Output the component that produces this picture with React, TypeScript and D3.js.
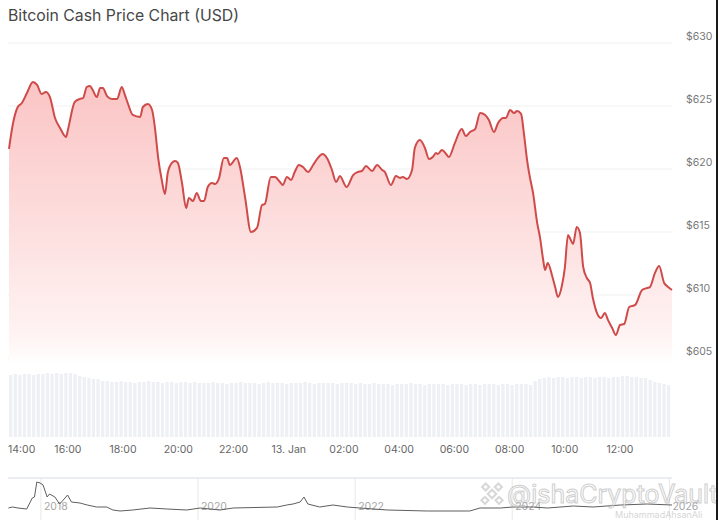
import React from "react";
import * as d3 from "d3";

const priceTimes = [
  "12 13:52","12 14:00","12 14:11","12 14:20","12 14:31","12 14:44","12 14:53","12 15:03","12 15:12","12 15:21",
  "12 15:32","12 15:43","12 15:56","12 16:00","12 16:15","12 16:26","12 16:33","12 16:41","12 16:48","12 16:54",
  "12 17:03","12 17:10","12 17:16","12 17:25","12 17:36","12 17:47","12 17:57","12 18:04","12 18:10","12 18:21",
  "12 18:37","12 18:43","12 18:54","12 19:03","12 19:09","12 19:16","12 19:24","12 19:31","12 19:37","12 19:46",
  "12 19:53","12 19:59","12 20:08","12 20:17","12 20:23","12 20:32","12 20:40","12 20:49","12 20:56","12 21:04",
  "12 21:13","12 21:20","12 21:28","12 21:39","12 21:46","12 21:52","12 22:07","12 22:14","12 22:25","12 22:38",
  "12 22:51","12 23:02","12 23:08","12 23:21","12 23:30","12 23:41","12 23:47","12 23:56","13 00:05","13 00:13",
  "13 00:22","13 00:31","13 00:42","13 00:53","13 01:03","13 01:14","13 01:23","13 01:34","13 01:43","13 01:51",
  "13 02:06","13 02:20","13 02:30","13 02:39","13 02:48","13 03:01","13 03:12","13 03:23","13 03:29","13 03:42",
  "13 03:53","13 04:02","13 04:08","13 04:17","13 04:28","13 04:34","13 04:45","13 04:56","13 05:05","13 05:13",
  "13 05:20","13 05:24","13 05:33","13 05:42","13 05:48","13 06:01","13 06:16","13 06:25","13 06:34","13 06:45",
  "13 06:56","13 07:07","13 07:15","13 07:26","13 07:35","13 07:46","13 07:52","13 08:01","13 08:10","13 08:16",
  "13 08:25","13 08:31","13 08:38","13 08:44","13 08:51","13 09:00","13 09:06","13 09:13","13 09:17","13 09:23",
  "13 09:32","13 09:39","13 09:45","13 09:54","13 10:00","13 10:07","13 10:13","13 10:18","13 10:26","13 10:33",
  "13 10:40","13 10:48","13 10:55","13 11:01","13 11:10","13 11:19","13 11:27","13 11:34","13 11:43","13 11:51",
  "13 12:00","13 12:09","13 12:20","13 12:33","13 12:48","13 12:59","13 13:05","13 13:16","13 13:25","13 13:36",
  "13 13:42","13 13:53",
];

const prices = [
  621.59,623.49,624.92,625.24,626.03,626.90,626.67,625.95,626.11,625.71,
  624.05,623.25,622.54,623.10,625.32,625.56,625.63,626.51,626.59,626.27,
  625.71,626.43,626.43,625.79,625.56,625.56,626.51,625.87,625.24,624.29,
  624.13,624.92,625.16,624.68,623.33,620.95,619.13,618.02,619.68,620.48,
  620.63,620.48,618.89,616.90,617.70,617.46,618.10,617.46,617.46,618.57,
  618.89,618.81,619.21,620.87,620.87,620.32,620.87,620.16,617.78,615.00,
  615.32,617.14,617.22,619.37,619.37,618.97,618.73,619.37,619.13,619.76,
  620.32,620.16,619.76,620.32,620.87,621.19,620.87,619.92,618.97,619.44,
  618.57,619.52,619.76,619.84,620.24,619.84,620.32,619.92,619.76,618.73,
  619.44,619.29,619.37,619.21,619.92,621.67,622.30,621.67,620.79,620.95,
  621.27,621.19,621.51,621.19,620.95,622.06,623.17,622.62,622.94,623.17,
  624.44,624.29,623.89,622.94,623.65,624.05,624.05,624.68,624.44,624.60,
  624.37,622.86,620.71,619.37,618.10,615.71,614.60,612.78,611.98,612.54,
  611.59,610.63,609.84,610.79,612.14,614.76,614.36,614.05,615.40,614.92,
  612.22,611.35,610.95,609.76,608.57,608.17,608.57,608.01,607.38,606.82,
  607.62,607.70,609.05,609.21,610.40,610.56,610.63,611.75,612.30,610.95,
  610.71,610.40,
];

// 10-minute volume bars starting 12 Jan 13:52 (relative units)
const volumeStart = "12 13:52";
const volumeIntervalMinutes = 10;
const volumes = [
  62,63,62,63,63,62,63,
  63,64,63,64,63,64,64,63,
  61,60,59,58,58,
  56,56,55,55,56,55,55,54,55,55,56,55,55,54,55,55,54,55,55,54,55,54,
  54,54,55,54,54,53,54,54,55,54,54,54,53,54,55,54,54,54,53,54,54,54,55,54,53,54,54,54,54,53,54,54,54,53,54,
  53,53,54,53,53,53,52,53,53,53,54,53,53,52,53,53,53,53,52,53,53,53,52,53,53,52,53,53,53,52,53,53,52,53,53,53,52,
  56,58,
  59,60,59,60,60,59,60,60,59,60,60,59,60,60,59,60,60,61,61,60,60,59,59,
  57,55,54,53,52,
];

const priceTicks = [605, 610, 615, 620, 625, 630];

const navDates = [
  "2017-08-03","2017-08-22","2017-09-16","2017-10-27","2017-11-22","2017-12-02","2017-12-13","2017-12-28",
  "2018-01-11","2018-01-30","2018-02-10","2018-03-07","2018-03-29","2018-04-23","2018-05-05","2018-05-23",
  "2018-07-02","2018-08-04","2018-09-17","2018-11-03","2018-12-02","2019-01-04","2019-03-04","2019-05-23",
  "2019-08-11","2019-11-10","2020-01-11","2020-04-12","2020-06-13","2021-01-04","2021-02-17","2021-03-18",
  "2021-04-20","2021-05-08","2021-05-26","2021-07-20","2021-09-20","2021-11-25","2022-01-23","2022-05-31",
  "2022-12-02","2023-06-18","2023-08-04","2023-11-07","2024-01-04","2024-04-08","2024-06-13","2024-10-12",
  "2025-01-11","2025-05-19","2025-09-20","2026-01-13",
];
const navPrices = [
  552,670,552,434,1732,1850,3620,3502,
  3266,1850,2204,1850,1024,1732,2086,1260,
  1142,906,670,670,316,198,316,552,
  434,316,552,316,552,670,906,1024,
  1260,1850,1024,670,906,670,552,316,
  198,198,552,552,670,670,552,788,
  670,906,1024,906,
];
const navYears = ["2018", "2020", "2022", "2024", "2026"];

const FONT = "Inter, 'Open Sans', sans-serif";

export default function App() {
  const parseShort = d3.timeParse("%Y-%m-%d %H:%M");
  const parseP = (s: string) => parseShort("2026-01-" + s) as Date;
  const parseDay = d3.timeParse("%Y-%m-%d");

  const pts = priceTimes.map((t, i) => ({ t: parseP(t), v: prices[i] }));
  const t0 = pts[0].t;
  const t1 = pts[pts.length - 1].t;

  const left = 9, right = 672;
  const x = d3.scaleTime().domain([t0, t1]).range([left, right]);
  const y = d3.scaleLinear().domain([605, 630]).range([358, 43]);

  const line = d3.line<{ t: Date; v: number }>().x(d => x(d.t)).y(d => y(d.v)).curve(d3.curveMonotoneX);
  const area = d3.area<{ t: Date; v: number }>().x(d => x(d.t)).y0(364).y1(d => y(d.v)).curve(d3.curveMonotoneX);

  const volStart = parseP(volumeStart);
  const yVol = d3.scaleLinear().domain([0, 66]).range([437, 371]);
  const bars = volumes.map((v, i) => {
    const a = d3.timeMinute.offset(volStart, i * volumeIntervalMinutes);
    const b = d3.timeMinute.offset(volStart, (i + 1) * volumeIntervalMinutes);
    return { x0: x(a), x1: Math.min(x(b), right), v };
  });

  const hourTicks = d3.timeHour.every(2)!.range(t0, t1);
  const fmtTick = (d: Date) => (d.getHours() === 0 ? d3.timeFormat("%-d. %b")(d) : d3.timeFormat("%H:%M")(d));

  const navPts = navDates.map((d, i) => ({ t: parseDay(d) as Date, v: navPrices[i] }));
  const xn = d3.scaleTime().domain([parseDay("2017-08-01") as Date, parseDay("2026-01-13") as Date]).range([8, 672]);
  const yn = d3.scaleLinear().domain([80, 3620]).range([512, 482]);
  const navLine = d3.line<{ t: Date; v: number }>().x(d => xn(d.t)).y(d => yn(d.v));

  return (
    <svg width={720} height={520} style={{ position: "absolute", left: 0, top: 0, background: "#fff" }} fontFamily={FONT}>
      <defs>
        <linearGradient id="areaGrad" gradientUnits="userSpaceOnUse" x1="0" y1={80} x2="0" y2={364}>
          <stop offset="0" stopColor="#fbc4c4" />
          <stop offset="0.55" stopColor="#fde0e0" />
          <stop offset="0.9" stopColor="#fff3f3" />
          <stop offset="1" stopColor="#ffffff" />
        </linearGradient>
      </defs>
      <rect x={0} y={0} width={720} height={520} fill="#fff" />
      <text x={8} y={21} fontSize={15.8} fill="#474747">Bitcoin Cash Price Chart (USD)</text>

      {priceTicks.map(p => (
        <g key={p}>
          <line x1={8} x2={right} y1={y(p)} y2={y(p)} stroke="#f1f1f3" strokeWidth={1} />
          <text x={686} y={y(p) - 3} fontSize={10.5} fill="#777">{"$" + p}</text>
        </g>
      ))}

      <path d={area(pts) ?? ""} fill="url(#areaGrad)" />
      <path d={line(pts) ?? ""} fill="none" stroke="#cf4b49" strokeWidth={2} strokeLinejoin="round" />

      {bars.map((b, i) => (
        <rect key={i} x={b.x0} y={yVol(b.v)} width={Math.max(0, b.x1 - b.x0 - 1.3)} height={437 - yVol(b.v)} fill="#eef0f4" />
      ))}

      {hourTicks.map((t, i) => {
        const tx = x(t);
        const first = tx < 22;
        return (
          <text key={i} x={first ? 8 : tx} y={453} fontSize={10.5} fill="#666" textAnchor={first ? "start" : "middle"}>
            {fmtTick(t)}
          </text>
        );
      })}

      {/* navigator */}
      <line x1={8} x2={672} y1={478} y2={478} stroke="#d5dae3" strokeWidth={1} />
      {navYears.map(yr => {
        const gx = xn(parseDay(yr + "-01-01") as Date);
        return (
          <g key={yr}>
            <line x1={gx} x2={gx} y1={478} y2={520} stroke="#e8e8e8" strokeWidth={1} />
            <text x={gx + 3} y={510} fontSize={10.5} fill="#a6a6a6">{yr}</text>
          </g>
        );
      })}
      <path d={navLine(navPts) ?? ""} fill="none" stroke="#5e5e5e" strokeWidth={1} />

      {/* watermark */}
      <g opacity={0.55}>
        <g transform="translate(492,494) rotate(45)" fill="none" stroke="#b8b8b8" strokeWidth={2}>
          <rect x={-3} y={-3} width={6} height={6} />
          <rect x={-12} y={-3} width={5} height={5} />
          <rect x={7} y={-3} width={5} height={5} />
          <rect x={-3} y={-12} width={5} height={5} />
          <rect x={-3} y={7} width={5} height={5} />
        </g>
        <text x={507} y={503} fontSize={25} fill="#ffffff" stroke="#a8a8a8" strokeWidth={1}>@ishaCryptoVault</text>
        <text x={615} y={518} fontSize={9} fill="#b5b5b5">MuhammadAhsanAli</text>
      </g>

      <rect x={716} y={0} width={2} height={520} fill="#1a1a1a" />
    </svg>
  );
}
